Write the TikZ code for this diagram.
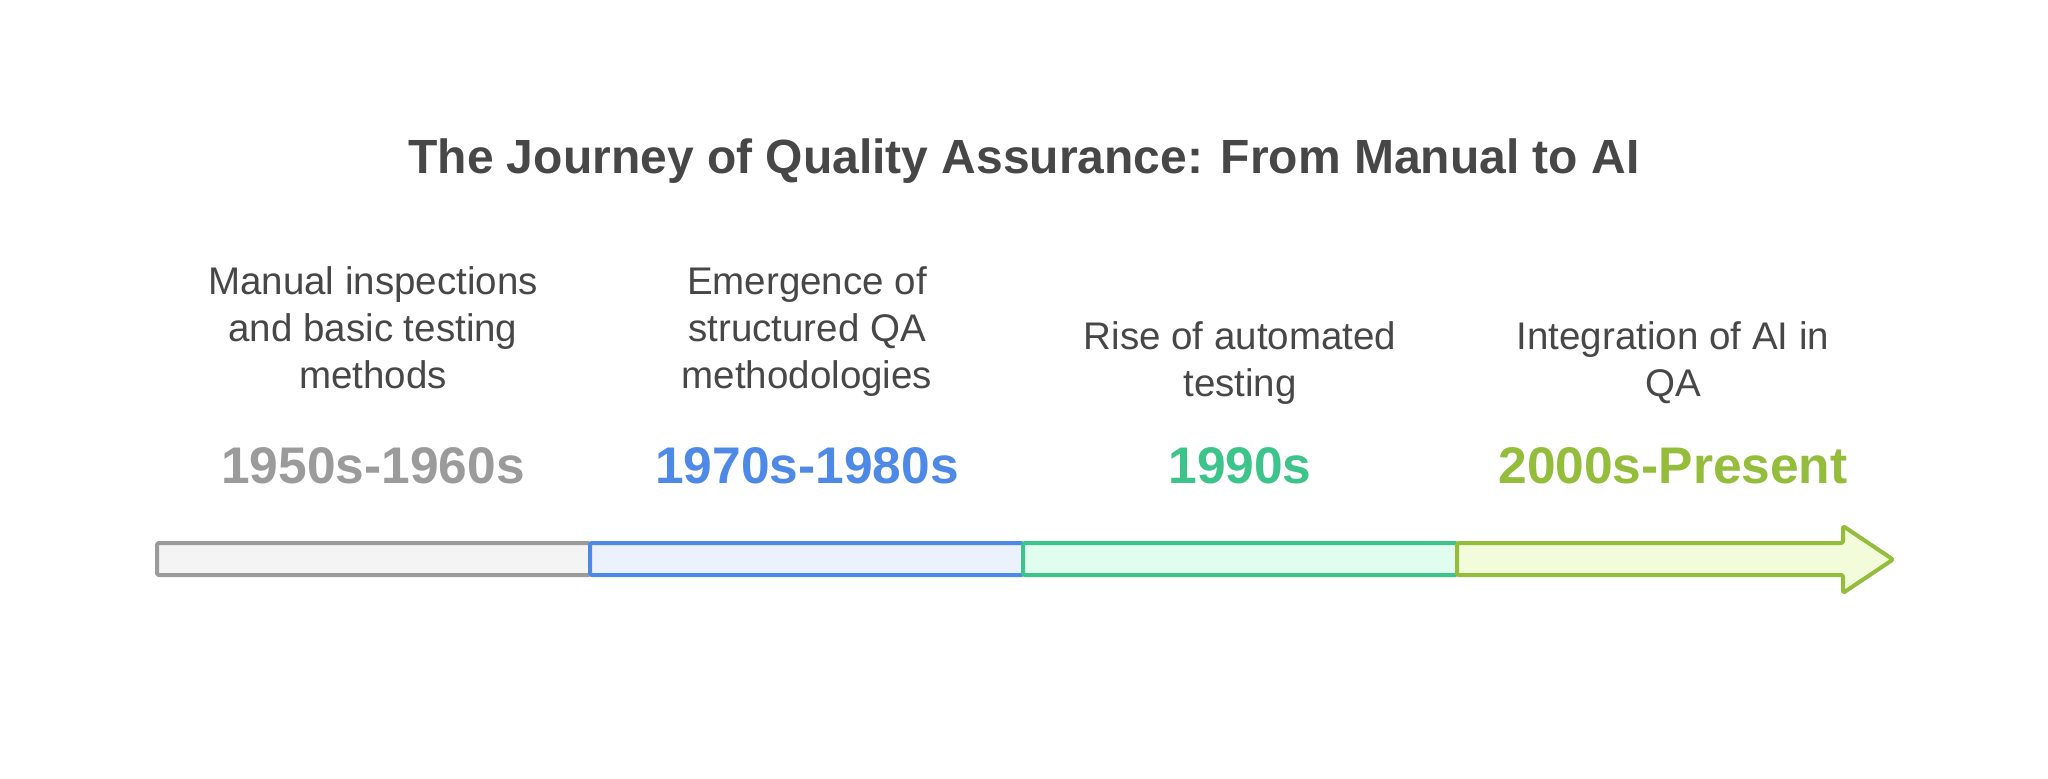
\documentclass[tikz,border=0pt]{standalone}
\usepackage{fontspec}
\setmainfont{Liberation Sans}
\definecolor{txt}{HTML}{474747}
\definecolor{grayS}{HTML}{9B9B9B}
\definecolor{grayF}{HTML}{F4F4F4}
\definecolor{blueS}{HTML}{4F89E6}
\definecolor{blueF}{HTML}{EBF2FE}
\definecolor{greenS}{HTML}{3CC48A}
\definecolor{greenF}{HTML}{E0FDF0}
\definecolor{limeS}{HTML}{93BD3A}
\definecolor{limeF}{HTML}{F2FCDA}
\tikzset{
  seg/.style={line width=4pt, rounded corners=2pt, line join=round},
  desc/.style={align=center, text=txt, font=\fontsize{38.5}{47}\selectfont, inner sep=0pt},
  yr/.style={font=\fontsize{51.5}{60}\selectfont\bfseries, inner sep=0pt},
  ttl/.style={font=\fontsize{48}{56}\selectfont\bfseries, text=txt, inner sep=0pt}
}
\begin{document}
\begin{tikzpicture}[x=1pt,y=-1pt]
\useasboundingbox[fill=white] (0,0) rectangle (2048,779);
\node[ttl] (title) at (1024,161) {The Journey of Quality Assurance: From Manual to AI};

\draw[seg, draw=grayS, fill=grayF] (157,543) rectangle (590,575);
\draw[seg, draw=blueS, fill=blueF] (590,543) rectangle (1023,575);
\draw[seg, draw=greenS, fill=greenF] (1023,543) rectangle (1457,575);
\draw[seg, draw=limeS, fill=limeF] (1457,543) -- (1843,543) -- (1843,526) -- (1893,559.5) -- (1843,593) -- (1843,575) -- (1457,575) -- cycle;

\node[desc] (d1) at (373,328) {Manual inspections\\and basic testing\\methods};
\node[desc] (d2) at (807,332) {Emergence of\\structured QA\\methodologies};
\node[desc] (d3) at (1240,363) {Rise of automated\\testing};
\node[desc] (d4) at (1673,363) {Integration of AI in\\QA};

\node[yr, text=grayS] (y1) at (373,466) {1950s-1960s};
\node[yr, text=blueS] (y2) at (807,466) {1970s-1980s};
\node[yr, text=greenS] (y3) at (1240,466) {1990s};
\node[yr, text=limeS] (y4) at (1673,466) {2000s-Present};
\end{tikzpicture}
\end{document}
